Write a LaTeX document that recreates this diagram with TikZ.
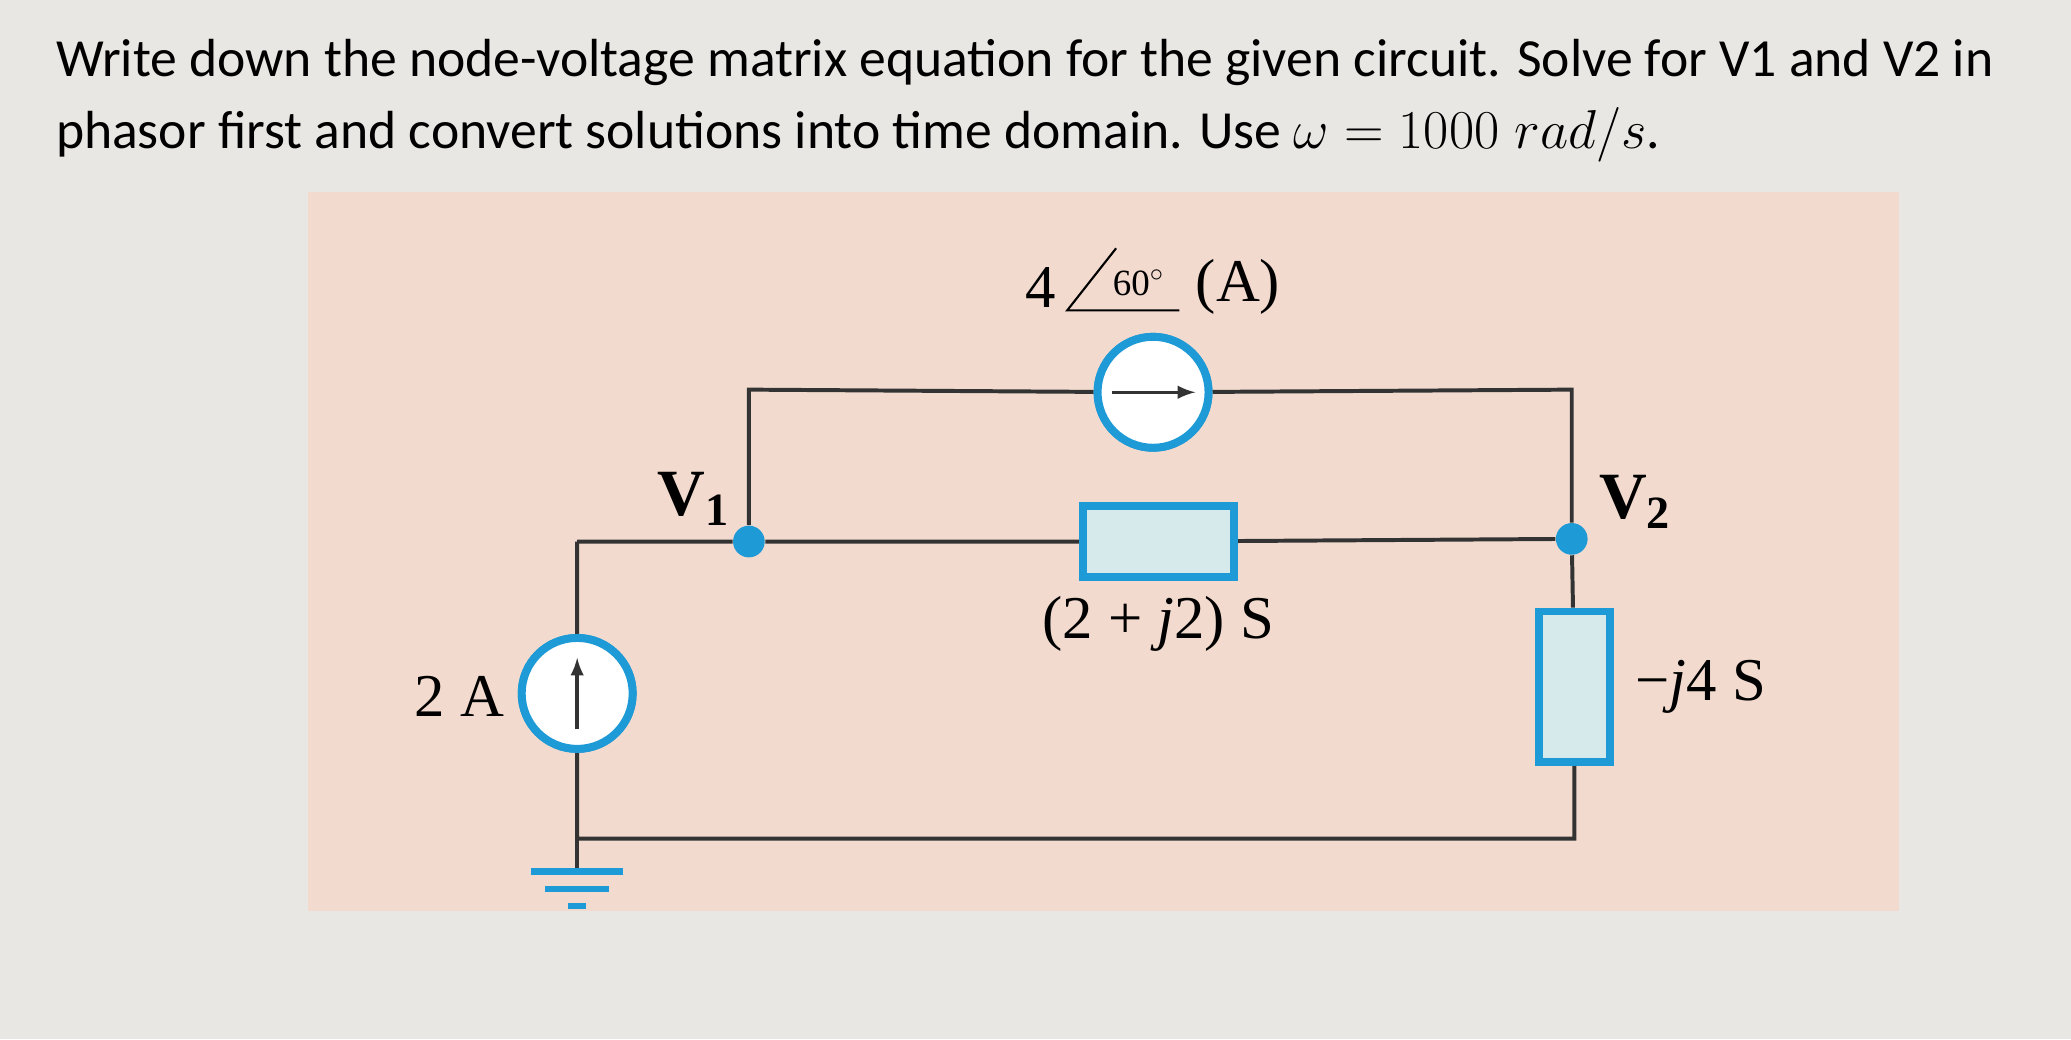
\documentclass[tikz,border=0pt]{standalone}
\usepackage{fontspec}
\setmainfont{Liberation Serif}
\newfontfamily\calfont{Carlito}
\begin{document}
\begin{tikzpicture}[x=0.5pt,y=-0.5pt]
\definecolor{bg}{HTML}{E9E7E4}
\definecolor{pk}{HTML}{F2DACE}
\definecolor{bl}{HTML}{1E9AD6}
\definecolor{bf}{HTML}{D6EAEC}
\tikzset{wire/.style={draw=black!80,line width=1.5pt},
 src/.style={circle,draw=bl,line width=3pt,fill=white,minimum size=42pt,inner sep=0pt},
 res/.style={rectangle,draw=bl,line width=3pt,fill=bf,inner sep=0pt},
 dot/.style={circle,fill=bl,minimum size=12pt,inner sep=0pt},
 lab/.style={font=\fontsize{23}{26}\selectfont,inner sep=0pt}}
\fill[bg] (0,0) rectangle (1568,787);
\useasboundingbox (0,0) rectangle (1568,787);
\fill[pk] (233,145) rectangle (1438,690);
\node[anchor=west,font=\calfont\fontsize{20.3}{24}\selectfont,inner sep=0pt] (t1) at (42,47) {Write down the node-voltage matrix equation for the given circuit. Solve for V1 and V2 in};
\node[anchor=west,font=\calfont\fontsize{20.3}{24}\selectfont,inner sep=0pt] (t2) at (42,102) {phasor first and convert solutions into time domain. Use $\omega=1000\;rad/s$.};
\coordinate (tl) at (567,295);
\coordinate (tr) at (1190,295);
\coordinate (ml) at (437,410);
\coordinate (bl) at (437,635);
\coordinate (br) at (1192,635);
\node[src] (s1) at (873,297) {};
\node[res,minimum width=57pt,minimum height=27pt] (r1) at (877,410) {};
\node[src] (s2) at (437,525) {};
\node[res,minimum width=27pt,minimum height=57pt] (r2) at (1192,520) {};
\node[dot] (v1) at (567,410) {};
\node[dot] (v2) at (1190,408) {};
\draw[wire] (v1) -- (tl) -- (s1) -- (tr) -- (v2);
\draw[wire] (ml) -- (v1) -- (r1) -- (v2) -- (r2) -- (br) -- (bl) -- (s2) -- (ml);
\node[src] at (873,297) {};
\node[src] at (437,525) {};
\node[res,minimum width=57pt,minimum height=27pt] at (877,410) {};
\node[res,minimum width=27pt,minimum height=57pt] at (1192,520) {};
\draw[black!80,line width=1.3pt,-latex] (842,297) -- (905,297);
\draw[black!80,line width=1.3pt,-latex] (437,552) -- (437,498);
\coordinate (g) at (437,660);
\draw[wire] (bl) -- (g);
\draw[bl,line width=2.5pt] (402,660) -- (472,660) (413,673) -- (461,673) (430,686) -- (444,686);
\node[lab,anchor=east] (l4) at (800,218) {4};
\draw[black,line width=0.8pt] (845,188) -- (808,235) -- (893,235);
\node[lab,font=\fontsize{14}{16}\selectfont,inner sep=0pt] at (862,214) {60$^\circ$};
\node[lab,anchor=west] at (905,217) {(A)};
\node[lab,font=\fontsize{25}{28}\selectfont] at (525,378) {\textbf{V}$_{\mathbf 1}$};
\node[lab,font=\fontsize{25}{28}\selectfont] at (1238,380) {\textbf{V}$_{\mathbf 2}$};
\node[lab] at (877,472) {(2 + \textit{j}2) S};
\node[lab,anchor=east] at (382,527) {2 A};
\node[lab,anchor=west] at (1238,520) {\textminus\textit{j}4 S};
\end{tikzpicture}
\end{document}
